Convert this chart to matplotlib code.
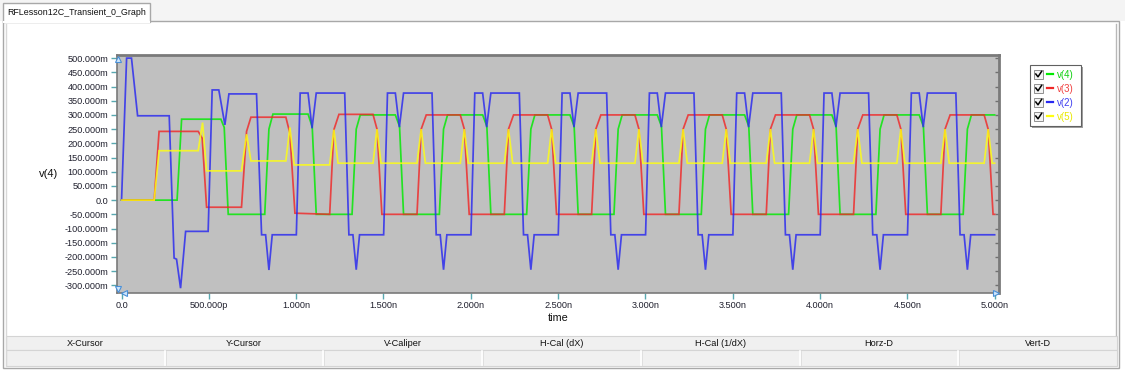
import matplotlib
matplotlib.use('Agg')
import matplotlib.pyplot as plt
from matplotlib.patches import Rectangle

plt.rcParams['font.family'] = ['Liberation Sans', 'DejaVu Sans']

# breakpoints: time in ns, voltage in mV
t_v4 = [0.000, 0.318, 0.344, 0.569, 0.588, 0.611,
        0.820, 0.844, 0.867, 1.068, 1.092, 1.115,
        1.320, 1.344, 1.367, 1.568, 1.592, 1.615,
        1.820, 1.844, 1.867, 2.068, 2.092, 2.115,
        2.320, 2.344, 2.367, 2.568, 2.592, 2.615,
        2.820, 2.844, 2.867, 3.068, 3.092, 3.115,
        3.320, 3.344, 3.367, 3.568, 3.592, 3.615,
        3.820, 3.844, 3.867, 4.068, 4.092, 4.115,
        4.320, 4.344, 4.367, 4.568, 4.592, 4.615,
        4.820, 4.844, 4.867, 5.000]
v_v4 = [0, 0, 285, 285, 256, -50,
        -50, 250, 303, 303, 258, -50,
        -50, 250, 300, 300, 260, -50,
        -50, 250, 300, 300, 260, -50,
        -50, 250, 300, 300, 260, -50,
        -50, 250, 300, 300, 260, -50,
        -50, 250, 300, 300, 260, -50,
        -50, 250, 300, 300, 260, -50,
        -50, 250, 300, 300, 260, -50,
        -50, 250, 300, 300]

t_v3 = [0.000, 0.187, 0.215, 0.439, 0.462, 0.487,
        0.687, 0.716, 0.741, 0.941, 0.964, 0.993,
        1.192, 1.216, 1.245, 1.440, 1.463, 1.491,
        1.692, 1.716, 1.745, 1.940, 1.963, 1.991,
        2.192, 2.216, 2.245, 2.440, 2.463, 2.491,
        2.692, 2.716, 2.745, 2.940, 2.963, 2.991,
        3.192, 3.216, 3.245, 3.440, 3.463, 3.491,
        3.692, 3.716, 3.745, 3.940, 3.963, 3.991,
        4.192, 4.216, 4.245, 4.440, 4.463, 4.491,
        4.692, 4.716, 4.745, 4.940, 4.963, 4.991,
        5.000]
v_v3 = [0, 0, 242, 242, 218, -25,
        -25, 242, 292, 292, 236, -46,
        -50, 248, 302, 302, 250, -50,
        -50, 250, 300, 300, 250, -50,
        -50, 250, 300, 300, 250, -50,
        -50, 250, 300, 300, 250, -50,
        -50, 250, 300, 300, 250, -50,
        -50, 250, 300, 300, 250, -50,
        -50, 250, 300, 300, 250, -50,
        -50, 250, 300, 300, 250, -50,
        -50]

t_v2 = [0.000, 0.029, 0.057, 0.092, 0.273, 0.301, 0.315, 0.338, 0.367,
        0.496, 0.519, 0.557, 0.592, 0.615, 0.773, 0.802,
        0.825, 0.844, 0.863, 1.001, 1.023, 1.068, 1.091, 1.115, 1.278, 1.302,
        1.325, 1.344, 1.363, 1.501, 1.523, 1.568, 1.591, 1.615, 1.778, 1.802,
        1.825, 1.844, 1.863, 2.001, 2.023, 2.068, 2.091, 2.115, 2.278, 2.302,
        2.325, 2.344, 2.363, 2.501, 2.523, 2.568, 2.591, 2.615, 2.778, 2.802,
        2.825, 2.844, 2.863, 3.001, 3.023, 3.068, 3.091, 3.115, 3.278, 3.302,
        3.325, 3.344, 3.363, 3.501, 3.523, 3.568, 3.591, 3.615, 3.778, 3.802,
        3.825, 3.844, 3.863, 4.001, 4.023, 4.068, 4.091, 4.115, 4.278, 4.302,
        4.325, 4.344, 4.363, 4.501, 4.523, 4.568, 4.591, 4.615, 4.778, 4.802,
        4.825, 4.844, 4.863, 5.000]
v_v2 = [0, 500, 500, 297, 297, -204, -208, -310, -110,
        -110, 388, 388, 265, 374, 374, -122,
        -122, -246, -122, -122, 377, 377, 253, 377, 377, -122,
        -122, -245, -122, -122, 377, 377, 257, 377, 377, -122,
        -122, -245, -122, -122, 377, 377, 257, 377, 377, -122,
        -122, -245, -122, -122, 377, 377, 257, 377, 377, -122,
        -122, -245, -122, -122, 377, 377, 257, 377, 377, -122,
        -122, -245, -122, -122, 377, 377, 257, 377, 377, -122,
        -122, -245, -122, -122, 377, 377, 257, 377, 377, -122,
        -122, -245, -122, -122, 377, 377, 257, 377, 377, -122,
        -122, -245, -122, -122]

t_v5 = [0.000, 0.187, 0.215, 0.439, 0.464, 0.487,
        0.687, 0.716, 0.741, 0.941, 0.964, 0.989,
        1.192, 1.216, 1.240, 1.440, 1.463, 1.486,
        1.692, 1.716, 1.740, 1.940, 1.963, 1.986,
        2.192, 2.216, 2.240, 2.440, 2.463, 2.486,
        2.692, 2.716, 2.740, 2.940, 2.963, 2.986,
        3.192, 3.216, 3.240, 3.440, 3.463, 3.486,
        3.692, 3.716, 3.740, 3.940, 3.963, 3.986,
        4.192, 4.216, 4.240, 4.440, 4.463, 4.486,
        4.692, 4.716, 4.740, 4.940, 4.963, 4.986,
        5.000]
v_v5 = [0, 0, 174, 174, 273, 103,
        103, 232, 138, 138, 256, 124,
        124, 248, 130, 130, 250, 130,
        130, 250, 130, 130, 250, 130,
        130, 250, 130, 130, 250, 130,
        130, 250, 130, 130, 250, 130,
        130, 250, 130, 130, 250, 130,
        130, 250, 130, 130, 250, 130,
        130, 250, 130, 130, 250, 130,
        130, 250, 130, 130, 250, 130,
        130]

series_names = ['v(4)', 'v(3)', 'v(2)', 'v(5)']
series_colors = ['#00ea00', '#f02828', '#2828f0', '#ffff10']
legend_text_colors = ['#10d010', '#f04040', '#4040f0', '#e8e800']

y_ticks = [-300, -250, -200, -150, -100, -50, 0, 50, 100, 150, 200, 250, 300, 350, 400, 450, 500]
y_tick_labels = ['-300.000m', '-250.000m', '-200.000m', '-150.000m', '-100.000m', '-50.000m', '0.0',
                 '50.000m', '100.000m', '150.000m', '200.000m', '250.000m', '300.000m',
                 '350.000m', '400.000m', '450.000m', '500.000m']
x_ticks = [0, 0.5, 1, 1.5, 2, 2.5, 3, 3.5, 4, 4.5, 5]
x_tick_labels = ['0.0', '500.000p', '1.000n', '1.500n', '2.000n', '2.500n',
                 '3.000n', '3.500n', '4.000n', '4.500n', '5.000n']

cursor_headers = ['X-Cursor', 'Y-Cursor', 'V-Caliper', 'H-Cal (dX)', 'H-Cal (1/dX)', 'Horz-D', 'Vert-D']

W, H = 1125, 371
fig = plt.figure(figsize=(W / 100, H / 100), dpi=100)
fig.patch.set_facecolor('white')

# window chrome drawn in pixel coordinates, under the plot
bg = fig.add_axes([0, 0, 1, 1], zorder=0)
bg.set_xlim(0, W)
bg.set_ylim(H, 0)
bg.axis('off')

bg.add_patch(Rectangle((0, 0), W, 21, facecolor='#f4f4f4', edgecolor='none'))
bg.add_patch(Rectangle((3, 21), 1116, 347, facecolor='white', edgecolor='#a8a8a8', lw=1))
bg.plot([6, 6], [24, 366], color='#d8d8d8', lw=1)
bg.plot([1116, 1116], [24, 335], color='#b8b8b8', lw=1)
bg.add_patch(Rectangle((3, 3), 147, 19, facecolor='white', edgecolor='#a8a8a8', lw=1))
bg.plot([4, 149], [21.5, 21.5], color='white', lw=1.5)
bg.text(7.5, 12.5, 'RFLesson12C_Transient_0_Graph', fontsize=6.4, color='#101010',
        va='center', ha='left')

# cursor table at the bottom
bg.add_patch(Rectangle((6, 336), 1111, 14, facecolor='#f0f0f0', edgecolor='#d4d4d4', lw=0.8))
bg.add_patch(Rectangle((6, 350), 1111, 16, facecolor='#f0f0f0', edgecolor='#d4d4d4', lw=0.8))
col_w = 1111 / 7
for i, name in enumerate(cursor_headers):
    bg.text(6 + col_w * (i + 0.5), 343, name, fontsize=6.6, color='#101010',
            ha='center', va='center')
    if i > 0:
        bg.plot([6 + col_w * i, 6 + col_w * i], [351, 365], color='white', lw=1.2)
        bg.plot([6 + col_w * i + 1, 6 + col_w * i + 1], [351, 365], color='#dcdcdc', lw=0.6)

# main plot area
left_px, right_px, top_px, bot_px = 117, 999, 55, 293
ax = fig.add_axes([left_px / W, 1 - bot_px / H, (right_px - left_px) / W, (bot_px - top_px) / H],
                  zorder=2)
ax.set_facecolor('#c0c0c0')

for t, v, c in zip([t_v4, t_v3, t_v2, t_v5], [v_v4, v_v3, v_v2, v_v5], series_colors):
    ax.plot(t, v, color=c, lw=1.25, alpha=0.82, solid_joinstyle='miter')

ax.set_xlim(-0.026, 5.025)
ax.set_ylim(-327, 511)
ax.set_xticks(x_ticks)
ax.set_xticklabels(x_tick_labels)
ax.set_yticks(y_ticks)
ax.set_yticklabels(y_tick_labels)
ax.tick_params(axis='both', colors='#58a8b0', labelcolor='#20202e', labelsize=6.6,
               length=4, width=1, pad=2)
for side in ['top', 'right', 'left', 'bottom']:
    ax.spines[side].set_color('#7a7a7a')
    ax.spines[side].set_linewidth(1.2)
ax.spines['top'].set_linewidth(2)
ax.spines['right'].set_linewidth(2)

# small inward marks on the right edge
right_ax = ax.secondary_yaxis('right')
right_ax.set_yticks(y_ticks)
right_ax.set_yticklabels([])
right_ax.tick_params(direction='in', length=3, width=1, colors='#707070')
right_ax.spines['right'].set_visible(False)

ax.set_xlabel('time', fontsize=7.8, color='#101010', labelpad=2)
fig.text(49 / W, 1 - 174 / H, 'v(4)', fontsize=8, color='#101010', ha='center', va='center')

# overlay: corner handles and legend with check boxes
lg = fig.add_axes([0, 0, 1, 1], zorder=4)
lg.set_xlim(0, W)
lg.set_ylim(H, 0)
lg.axis('off')
lg.patch.set_alpha(0)

for (px, py, m) in [(118, 59, '^'), (118, 289, 'v'), (124, 293, '<'), (996, 293, '>')]:
    lg.plot(px, py, marker=m, ms=5, mfc='#cfe6fa', mec='#4a90d8', mew=0.8)

lg.add_patch(Rectangle((1032, 67), 51, 61, facecolor='#a0a0a0', edgecolor='none'))
lg.add_patch(Rectangle((1030, 65), 51, 61, facecolor='white', edgecolor='#606060', lw=0.8))
for i, (name, c, tc) in enumerate(zip(series_names, series_colors, legend_text_colors)):
    yy = 74 + i * 14
    lg.add_patch(Rectangle((1034, yy - 4), 9, 9, facecolor='#f4f4f4', edgecolor='#909090', lw=0.7))
    lg.plot([1035.8, 1038, 1041.6], [yy, yy + 2.8, yy - 2.6], color='black', lw=1.1)
    lg.plot([1047, 1053], [yy, yy], color=c, lw=1.6)
    lg.text(1057, yy + 0.5, name, fontsize=7, color=tc, ha='left', va='center')

fig.savefig('out.png', dpi=100)
